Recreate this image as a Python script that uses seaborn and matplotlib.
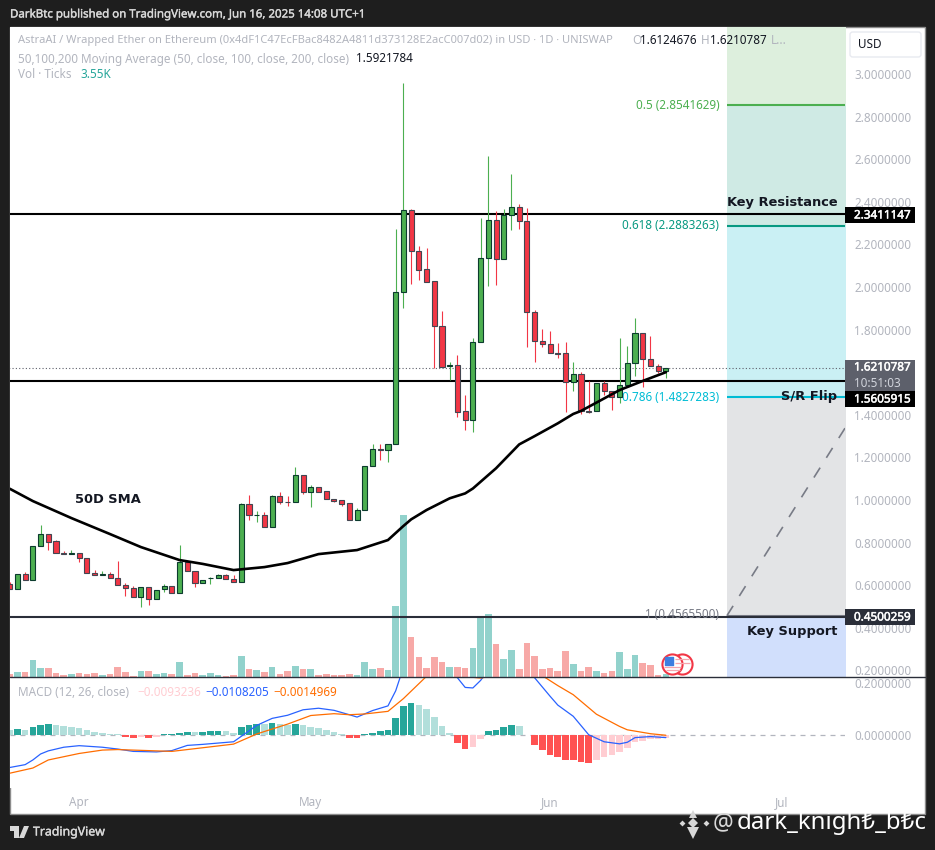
import numpy as np
import pandas as pd
import seaborn as sns
import matplotlib
matplotlib.use("Agg")
import matplotlib.pyplot as plt
import matplotlib.patheffects as pe
from matplotlib.lines import Line2D
from matplotlib.patches import Rectangle, Polygon, FancyBboxPatch
from matplotlib.transforms import blended_transform_factory

# daily bars, 24 Mar (bar 0) to 16 Jun (bar 84), one partly hidden bar before that
opens = [.604,.584,.651,.626,.782,.839,.806,.751,.748,.750,.726,.656,.649,.651,.632,.599,.585,.543,.593,.534,.581,.595,.562,.707,.665,.609,.632,.632,.646,.628,.613,.980,.928,.928,.872,1.017,.992,.989,1.116,1.039,1.059,1.041,1.006,.998,.984,.908,.951,1.158,1.239,1.233,1.261,1.975,2.360,2.167,2.083,2.027,1.815,1.629,1.632,1.416,1.374,1.740,2.135,2.313,2.130,2.337,2.374,2.308,1.881,1.745,1.731,1.690,1.689,1.552,1.590,1.418,1.416,1.548,1.510,1.482,1.541,1.642,1.783,1.660,1.628,1.607]
closes = [.584,.651,.626,.782,.839,.804,.750,.748,.751,.726,.656,.649,.651,.632,.599,.585,.543,.593,.534,.579,.595,.562,.707,.665,.609,.626,.634,.646,.628,.613,.980,.928,.930,.872,1.017,.992,.989,1.116,1.039,1.059,1.039,1.006,.997,.983,.908,.951,1.158,1.238,1.236,1.261,1.975,2.360,2.167,2.081,2.025,1.815,1.626,1.632,1.415,1.374,1.740,2.135,2.313,2.130,2.337,2.374,2.308,1.881,1.745,1.731,1.689,1.687,1.554,1.590,1.418,1.415,1.548,1.510,1.482,1.541,1.642,1.783,1.660,1.628,1.607,1.618]
highs = [.613,.651,.662,.782,.883,.839,.811,.761,.765,.750,.726,.671,.667,.662,.714,.610,.595,.593,.593,.579,.606,.595,.789,.707,.665,.626,.637,.651,.653,.646,.984,1.023,.948,.942,1.022,1.036,1.017,1.153,1.116,1.069,1.059,1.041,1.006,.998,.984,.961,1.158,1.263,1.263,1.263,2.272,2.958,2.366,2.191,2.183,2.027,1.887,1.648,1.681,1.493,1.761,2.323,2.615,2.357,2.365,2.531,2.390,2.371,1.892,1.803,1.793,1.737,1.740,1.648,1.599,1.559,1.548,1.559,1.510,1.761,1.723,1.853,1.783,1.770,1.639,1.621]
lows = [.584,.584,.626,.626,.782,.767,.750,.748,.748,.710,.656,.649,.649,.632,.599,.551,.543,.499,.509,.534,.568,.562,.562,.665,.593,.609,.607,.632,.628,.613,.613,.906,.898,.872,.872,.981,.973,.989,1.028,.969,1.039,1.006,.992,.973,.908,.908,.951,1.158,1.188,1.180,1.261,1.903,2.014,2.033,2.025,1.618,1.626,1.563,1.391,1.329,1.321,1.740,2.006,2.011,2.130,2.268,2.274,1.720,1.649,1.720,1.689,1.668,1.415,1.512,1.402,1.410,1.416,1.493,1.423,1.454,1.541,1.584,1.532,1.628,1.595,1.573]
volumes = [3,5,5,17,9,9,4,2,3,4,3,4,2,3,10,5,1,6,6,3,4,3,15,2,4,2,4,2,1,2,21,8,7,5,10,3,6,11,8,8,2,3,2,2,3,2,15,8,9,7,71,162,40,20,9,20,15,10,10,9,29,59,63,33,18,27,8,34,21,8,9,6,26,13,6,10,6,4,6,25,8,22,14,12,2,3]
macd_hist = [.021,.022,.021,.032,.040,.044,.040,.036,.032,.028,.021,.013,.009,.005,.003,-.006,-.010,-.008,-.010,-.006,.003,.004,.009,.013,.012,.013,.014,.015,.014,.009,.032,.040,.044,.043,.047,.044,.040,.044,.040,.032,.028,.021,.013,.005,-.010,-.013,.003,.009,.017,.021,.067,.113,.124,.117,.101,.071,.036,.009,-.029,-.053,-.045,-.014,.017,.021,.032,.040,.036,.001,-.037,-.056,-.076,-.083,-.095,-.096,-.103,-.106,-.095,-.083,-.076,-.064,-.049,-.026,-.022,-.017,-.014,-.013]

ma_bars = [-1,2,7,12,16,21,24,28,32,35,37,39,44,48,50,51,53,56,58,59,62,65,67,70,72,73,78,81,84]
ma_vals = [1.053,.995,.915,.840,.779,.718,.700,.671,.685,.704,.725,.746,.765,.812,.878,.909,.953,1.008,1.031,1.054,1.149,1.261,1.300,1.360,1.404,1.418,1.516,1.559,1.600]

macd_bars = [-1,1,2,3,4,6,8,11,13,15,18,20,22,24,26,28,31,33,35,37,39,41,43,44,46,48,49,50,51,52,53,54,55,56,57,58,59,60,61,62,63,64,65,66,67,69,70,72,74,76,78,79,80,82,84]
macd_line = [-.125,-.114,-.096,-.073,-.061,-.047,-.041,-.047,-.054,-.063,-.065,-.060,-.040,-.036,-.031,-.026,.037,.064,.076,.097,.103,.095,.078,.069,.094,.112,.170,.260,.330,.380,.390,.360,.310,.260,.220,.183,.181,.210,.250,.280,.290,.290,.270,.240,.220,.149,.115,.072,.001,-.026,-.034,-.028,-.010,-.006,-.010]
signal_bars = [-1,2,4,8,11,13,16,20,24,28,31,35,38,41,43,45,48,50,53,54,55,56,57,58,59,60,62,64,66,68,70,72,75,78,79,82,84]
signal_line = [-.147,-.127,-.096,-.071,-.058,-.056,-.059,-.063,-.049,-.035,.004,.042,.075,.082,.078,.081,.091,.140,.226,.250,.270,.280,.270,.240,.222,.219,.230,.240,.240,.228,.190,.155,.080,.033,.020,.005,-.001]

price_ticks = [3.0,2.8,2.6,2.4,2.2,2.0,1.8,1.6,1.4,1.2,1.0,.8,.6,.4,.2]
macd_ticks = [.2,0.0]
month_bars = [8,38,69,99]
month_names = ["Apr","May","Jun","Jul"]

fib_levels = [.4565500,1.4827283,2.2883263,2.8541629]
fib_names = ["1 (0.4565500)","0.786 (1.4827283)","0.618 (2.2883263)","0.5 (2.8541629)"]
key_levels = [2.3411147,1.5605915,.4500259]
last_price = 1.6210787

UP = "#4caf50"
DOWN = "#f23645"
W, H = 935, 850
FONT = ["Noto Sans", "DejaVu Sans"]
TXT = 11.7

sns.set_theme(style="white", rc={"axes.facecolor": "white", "axes.linewidth": 0})
plt.rcParams["font.family"] = FONT


def fx(x):
    return x / W


def fy(y):
    return 1 - y / H


def px(p):
    return p * 0.72


def fig_text(x, y, s, color, size=TXT, ha="left", **kw):
    return fig.text(fx(x), fy(y), s, color=color, fontsize=px(size), ha=ha, va="center", zorder=30, **kw)


def embolden(t, color, w=.35):
    # Noto Sans comes out regular here, so thicken the strokes a little
    t.set_path_effects([pe.withStroke(linewidth=w, foreground=color)])


bars = np.arange(-1, 85)
df = pd.DataFrame({"bar": bars, "open": opens, "close": closes, "high": highs, "low": lows,
                   "vol": volumes, "hist": macd_hist})
df["up"] = df["close"] >= df["open"]
prev = df["hist"].shift(1).fillna(df["hist"])
df["shade"] = np.select(
    [(df["hist"] >= 0) & (df["hist"] > prev), df["hist"] >= 0, df["hist"] < prev],
    ["pos_up", "pos_down", "neg_down"], "neg_up")

fig = plt.figure(figsize=(W / 100, H / 100), dpi=100, facecolor="#1e1e1e")
fig.add_artist(Rectangle((fx(10), fy(814)), fx(915), 787 / H, transform=fig.transFigure,
                         facecolor="white", edgecolor="#8c8c8c", linewidth=1, zorder=-5))

rect_main = [fx(10), fy(677), 835 / W, 650 / H]
ax_vol = fig.add_axes(rect_main, zorder=1)
ax = fig.add_axes(rect_main, zorder=2, sharex=ax_vol)
ax.patch.set_visible(False)
ax_macd = fig.add_axes([fx(10), fy(788), 835 / W, 111 / H], zorder=1, sharex=ax_vol)

# volume under the price bars
vol_df = df.assign(side=np.where(df["up"], "up", "down"))
sns.barplot(data=vol_df, x="bar", y="vol", hue="side", palette={"up": "#92d2cc", "down": "#f7a9a7"},
            native_scale=True, dodge=False, width=.86, linewidth=0, saturation=1, legend=False,
            orient="x", ax=ax_vol)
ax_vol.set_ylim(0, 650)
ax_vol.set_yticks([])
ax_vol.set_xlabel("")
ax_vol.set_ylabel("")

# fib bands
xb0, xb1 = 91.9, 107.3
ymin, ymax = .169, 3.2207
band_edges = [ymin] + fib_levels + [ymax]
band_colors = ["#d1dffc", "#e3e4e6", "#caf0f4", "#cfeae4", "#ddefdd"]
for lo, hi, c in zip(band_edges[:-1], band_edges[1:], band_colors):
    ax.fill_between([xb0, xb1], lo, hi, color=c, linewidth=0, zorder=1)
fib_colors = ["#787b86", "#00bcd4", "#089981", "#4caf50"]
for lv, name, c in zip(fib_levels, fib_names, fib_colors):
    ax.hlines(lv, xb0, xb1, color=c, linewidth=1.5, zorder=2)
    ax.text(90.9, lv + (.008 if name.startswith("1") else 0), name, color=c, ha="right", va="center",
            fontsize=px(TXT), zorder=6)
ax.plot([xb0, xb1], [.4566, 1.343], color="#787b86", linewidth=1.2, dashes=(7, 7), zorder=3)

# key levels
ax.hlines(key_levels[:2], -2, xb1, color="black", linewidth=1.5, zorder=4)
ax.hlines(key_levels[2], -2, xb1, color="#2a2e39", linewidth=1.5, zorder=4)
ax.hlines(last_price, -2, xb1, color="#5d606b", linewidth=.8, linestyles=(0, (1, 2)), zorder=3)

# candles
colors = np.where(df["up"], UP, DOWN)
edges = np.where(df["up"], "#0c3b2e", "#434651")
ax.vlines(df["bar"], df["low"], df["high"], colors=colors, linewidth=.8, zorder=5)
ax.bar(df["bar"], (df["close"] - df["open"]).abs(), bottom=df[["open", "close"]].min(axis=1), width=.66,
       color=colors, edgecolor=edges, linewidth=.8, zorder=6)

sns.lineplot(x=ma_bars, y=ma_vals, color="black", linewidth=1.9, ax=ax, zorder=7)

ax.set_xlim(-.96, 107.2)
ax.set_ylim(ymin, ymax)
ax.yaxis.tick_right()
ax.set_yticks(price_ticks, [f"{t:.7f}" for t in price_ticks])
ax.tick_params(axis="y", length=0, pad=6.5, labelsize=px(TXT), labelcolor="#b2b5be")
ax.tick_params(axis="x", length=0, labelbottom=False)
ax_vol.tick_params(axis="x", length=0, labelbottom=False)
ax.set_xlabel("")
ax.set_ylabel("")

for tx, ty, label, align in [(106.2, 2.398, "Key Resistance", "right"), (106.2, 1.487, "S/R Flip", "right"),
                             (106.2, .384, "Key Support", "right"), (7.5, 1.003, "50D SMA", "left")]:
    ax.text(tx, ty, label, color="#131722", ha=align, va="center", fontsize=px(13), fontweight="bold",
            family="DejaVu Sans", zorder=9)

# flag icons near the last bar
ax.scatter([86.1, 84.8], [.230, .230], s=210, facecolor="white", edgecolor="#f23645", linewidth=1.5, zorder=8)
ax.scatter([84.4], [.245], s=30, marker="s", color="#3d7fe0", zorder=9)
ax.hlines([.200, .218, .236, .254], [84.0, 83.7, 85.2, 85.2], [85.8, 86.0, 87.1, 87.0], color="#f6a5ad", linewidth=.9, zorder=9)

# price tags on the scale
tag_tf = blended_transform_factory(ax.transAxes, ax.transData)
tag_w = 70 / 835
tag_x = 1 + 9 / 835


def tag(y_px, label, face, h=16.5):
    price = 3 - (y_px - 74) / 213
    hp = h / 213
    ax.add_patch(Rectangle((1.0, price - hp / 2), tag_w, hp, transform=tag_tf, facecolor=face, linewidth=0,
                           clip_on=False, zorder=20))
    t = ax.text(tag_x, price, label, transform=tag_tf, color="white", va="center",
                ha="left", fontsize=px(TXT), clip_on=False, zorder=21)
    embolden(t, "white")


ax.add_patch(Rectangle((1.0, 3 - (391 - 74) / 213), tag_w, 31 / 213, transform=tag_tf, facecolor="#5d606b",
                       linewidth=0, clip_on=False, zorder=20))
t = ax.text(tag_x, 3 - (367 - 74) / 213, "1.6210787", transform=tag_tf, color="white", va="center", ha="left",
            fontsize=px(TXT), clip_on=False, zorder=21)
embolden(t, "white")
ax.text(tag_x, 3 - (383 - 74) / 213, "10:51:03", transform=tag_tf, color="#d1d4dc", va="center", ha="left",
        fontsize=px(TXT), clip_on=False, zorder=21)
tag(215, "2.3411147", "black")
tag(399, "1.5605915", "black")
tag(617, "0.4500259", "#2a2e39")

# macd pane
ax_macd.axhline(0, color="#b2b5be", linewidth=.9, dashes=(4, 4), zorder=0)
sns.barplot(data=df, x="bar", y="hist", hue="shade",
            palette={"pos_up": "#26a69a", "pos_down": "#b2dfdb", "neg_up": "#ffcdd2", "neg_down": "#ff5252"},
            native_scale=True, dodge=False, width=.86, linewidth=0, saturation=1, legend=False,
            orient="x", ax=ax_macd)
sns.lineplot(x=macd_bars, y=macd_line, color="#2962ff", linewidth=.9, ax=ax_macd, zorder=5)
sns.lineplot(x=signal_bars, y=signal_line, color="#ff6d00", linewidth=.9, ax=ax_macd, zorder=5)
ax_macd.set_ylim(-.2038, .2231)
ax_macd.set_xlim(-.96, 107.2)
ax_macd.yaxis.tick_right()
ax_macd.set_yticks(macd_ticks, [f"{t:.7f}" for t in macd_ticks])
ax_macd.tick_params(axis="y", length=0, pad=6.5, labelsize=px(TXT), labelcolor="#b2b5be")
ax_macd.set_xticks(month_bars, month_names)
ax_macd.tick_params(axis="x", length=0, pad=6, labelsize=px(TXT), labelcolor="#b2b5be")
ax_macd.set_xlabel("")
ax_macd.set_ylabel("")

# pane divider
fig.add_artist(Line2D([fx(10), fx(925)], [fy(677), fy(677)], color="#2a2e39", linewidth=1, zorder=25))

# header and legend text
embolden(fig_text(10, 15, "DarkBtc published on TradingView.com, Jun 16, 2025 14:08 UTC+1", "#d8d8d8", 11.5), "#d8d8d8", .25)
GREY = "#b2b5be"
fig_text(18, 41, "AstraAI / Wrapped Ether on Ethereum (0x4dF1C47EcFBac8482A4811d373128E2acC007d02) in USD · 1D · UNISWAP", GREY, 11.15)
fig_text(632, 41, "O", GREY)
fig_text(640, 41, "1.6124676", "#131722")
fig_text(701, 41, "H", GREY)
fig_text(710, 41, "1.6210787", "#131722")
fig_text(771, 41, "L...", GREY)
fig_text(18, 59, "50,100,200 Moving Average (50, close, 100, close, 200, close)", GREY)
fig_text(356, 59, "1.5921784", "#131722")
fig_text(18, 75, "Vol · Ticks", GREY)
fig_text(80, 75, "3.55K", "#26a69a")
fig_text(18, 692, "MACD (12, 26, close)", GREY)
fig_text(137, 692, "−0.0093236", "#ffcdd2")
fig_text(205, 692, "−0.0108205", "#2962ff")
fig_text(273, 692, "−0.0014969", "#ff6d00")

# currency button
fig.add_artist(FancyBboxPatch((fx(850), fy(57)), fx(71), 25 / H, boxstyle="round,pad=0,rounding_size=0.003",
                              transform=fig.transFigure, facecolor="white", edgecolor="#e8eaf0", linewidth=1, zorder=25))
fig_text(858, 45, "USD", "#131722", 11.7)

# footer
embolden(fig_text(33, 832, "TradingView", "#d8d8d8", 12.3), "#d8d8d8", .25)
fig.add_artist(Polygon([(fx(10), fy(826)), (fx(19), fy(826)), (fx(19), fy(838)), (fx(14), fy(838)), (fx(14), fy(831)), (fx(10), fy(831))],
                       transform=fig.transFigure, facecolor="#d8d8d8", linewidth=0, zorder=25))
fig.add_artist(Polygon([(fx(24), fy(826)), (fx(29), fy(826)), (fx(24), fy(838)), (fx(19), fy(838))],
                       transform=fig.transFigure, facecolor="#d8d8d8", linewidth=0, zorder=25))
fig_text(713, 823, "@", "#d8d8d8", 23)
fig_text(737, 823, "dark_knigh₺_b₺c", "white", 24)
for mx, my, m, ms in [(693, 823, "D", 5), (682, 823, "D", 3), (706, 823, "D", 3), (693, 814, "^", 6), (693, 833, "v", 8)]:
    fig.add_artist(Line2D([fx(mx)], [fy(my)], marker=m, markersize=ms, color="#d8d8d8", linewidth=0,
                          markeredgewidth=0, transform=fig.transFigure, zorder=25))

sns.despine(fig=fig, left=True, bottom=True, right=True, top=True)
fig.savefig("out.png", dpi=100, facecolor=fig.get_facecolor())
